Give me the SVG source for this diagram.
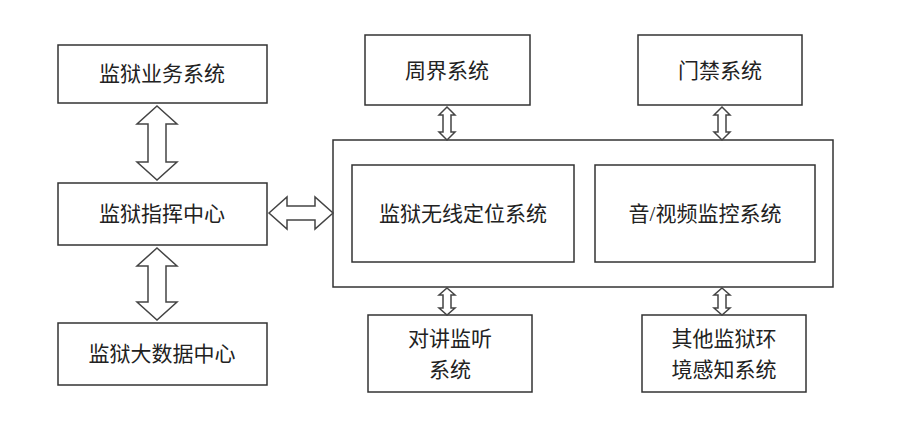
<svg xmlns="http://www.w3.org/2000/svg" width="909" height="437" viewBox="0 0 909 437">
<style>
.b{fill:#fff;stroke:#333;stroke-width:1.5}
.t{font-family:"Liberation Serif","Noto Sans CJK SC",serif;font-size:21px;fill:#222;text-anchor:middle}
.a{fill:#fff;stroke:#444;stroke-width:1.5}
</style>
<rect width="909" height="437" fill="#fff"/>
<g id="yewu"><rect class="b" x="58" y="45" width="209" height="58"/><text class="t" x="162" y="81">监狱业务系统</text></g>
<g id="zhihui"><rect class="b" x="58" y="183" width="209" height="62"/><text class="t" x="162" y="221">监狱指挥中心</text></g>
<g id="dashuju"><rect class="b" x="58" y="323" width="209" height="62"/><text class="t" x="162" y="361">监狱大数据中心</text></g>
<g id="main"><rect class="b" x="333" y="140" width="500" height="147"/></g>
<g id="dingwei"><rect class="b" x="352" y="165" width="222" height="97"/><text class="t" x="463" y="221">监狱无线定位系统</text></g>
<g id="shipin"><rect class="b" x="595" y="165" width="220" height="97"/><text class="t" x="705" y="221">音/视频监控系统</text></g>
<g id="zhoujie"><rect class="b" x="365" y="35" width="165" height="70"/><text class="t" x="447" y="78">周界系统</text></g>
<g id="menjin"><rect class="b" x="638" y="35" width="164" height="70"/><text class="t" x="720" y="78">门禁系统</text></g>
<g id="duijiang"><rect class="b" x="368" y="315" width="164" height="77"/><text class="t" x="450" y="346">对讲监听</text><text class="t" x="450" y="377">系统</text></g>
<g id="qita"><rect class="b" x="642" y="315" width="164" height="77"/><text class="t" x="724" y="346">其他监狱环</text><text class="t" x="724" y="377">境感知系统</text></g>
<g id="connectors">
<polygon class="a" points="157,106 177,124 166,124 166,162 177,162 157,180 137,162 148,162 148,124 137,124"/>
<polygon class="a" points="157,248 177,266 166,266 166,302 177,302 157,320 137,302 148,302 148,266 137,266"/>
<polygon class="a" points="269,213 287,197 287,206 315,206 315,197 333,213 315,229 315,220 287,220 287,229"/>
<polygon class="a" points="447,107 455,115 451,115 451,132 455,132 447,140 439,132 443,132 443,115 439,115"/>
<polygon class="a" points="722,107 730,115 726,115 726,132 730,132 722,140 714,132 718,132 718,115 714,115"/>
<polygon class="a" points="447,288 455,295 451,295 451,308 455,308 447,315 439,308 443,308 443,295 439,295"/>
<polygon class="a" points="722,288 730,295 726,295 726,308 730,308 722,315 714,308 718,308 718,295 714,295"/>
</g>
</svg>
